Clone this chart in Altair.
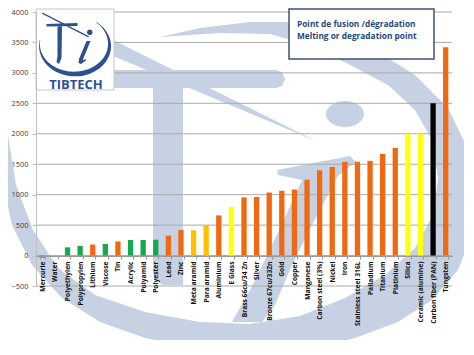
import altair as alt
import pandas as pd
import numpy as np

# ---------------- data ----------------
materials = ["Mercurie", "Water", "Polyethylen", "Polypropylen", "Lithium", "Viscose", "Tin",
             "Acrylic", "Polyamid", "Polyester", "Lead", "Zinc", "Meta aramid", "Para aramid",
             "Aluminium", "E Glass", "Brass 66cu/34 Zn", "Silver", "Bronze 67cu/33Zn", "Gold",
             "Copper", "Manganese", "Carbon steel (3%)", "Nickel", "Iron", "Stainless steel 316L",
             "Palladium", "Titanium", "Platinium", "Silica", "Ceramic (alumine)",
             "Carbon fiber (PAN)", "Tungsten"]
melting = [-39, 0, 135, 160, 180, 190, 232, 255, 255, 260, 327, 420, 415, 500, 660, 800, 955,
           962, 1035, 1064, 1085, 1246, 1400, 1455, 1538, 1540, 1555, 1668, 1768, 2000, 2000,
           2500, 3422]
ORANGE, GREEN, AMBER, YELLOW, BLACK = "#F0680F", "#16A84E", "#FFC000", "#FFFF10", "#000000"
bar_colors = [ORANGE, ORANGE, GREEN, GREEN, ORANGE, GREEN, ORANGE, GREEN, GREEN, GREEN, ORANGE,
              ORANGE, AMBER, AMBER, ORANGE, YELLOW, ORANGE, ORANGE, ORANGE, ORANGE, ORANGE,
              ORANGE, ORANGE, ORANGE, ORANGE, ORANGE, ORANGE, ORANGE, ORANGE, YELLOW, YELLOW,
              BLACK, ORANGE]
y_ticks = list(range(-500, 4001, 500))
title_lines = ["Point de fusion /dégradation", "Melting or degradation point"]
logo_text = "TIBTECH"

df = pd.DataFrame({"material": materials, "value": melting, "color": bar_colors})
ticks_df = pd.DataFrame({"tick": y_ticks})
one = pd.DataFrame({"a": [0]})

W, H = 416, 274
PAD_L, PAD_T = 28, 4
OX, OY = 8 + PAD_L, 8 + PAD_T   # plot origin in page pixels

# ---------------- decoration (watermark + logo) ----------------
def to_path(polys, cx, cy, R):
    parts = []
    for pts in polys:
        parts.append("M" + " L".join(f"{(x - cx) / R:.4f},{(y - cy) / R:.4f}" for x, y in pts) + " Z")
    return " ".join(parts)

def ellipse(cx, cy, rx, ry, n=36):
    t = np.linspace(0, 2 * np.pi, n, endpoint=False)
    return list(zip(cx + rx * np.cos(t), cy + ry * np.sin(t)))

def arc_band(cx, cy, rx, ry, t0, t1, wmax, n=60):
    ts = np.radians(np.linspace(t0, t1, n))
    s = np.linspace(0, 1, n)
    w = 0.4 + wmax * np.sin(np.pi * s) ** 1.2
    outer = [(cx + (rx + wi / 2) * np.cos(t), cy + (ry + wi / 2) * np.sin(t)) for t, wi in zip(ts, w)]
    inner = [(cx + (rx - wi / 2) * np.cos(t), cy + (ry - wi / 2) * np.sin(t)) for t, wi in zip(ts, w)]
    return outer + inner[::-1]

crescent = [(160, 37), (200, 28), (250, 22), (290, 22), (330, 32), (375, 50), (415, 75), (448, 108),
            (466, 145), (474, 190), (472, 235), (458, 270), (432, 300), (398, 322), (355, 338),
            (305, 350), (250, 354), (195, 348), (145, 338), (100, 322), (62, 298), (32, 265),
            (12, 225), (2, 180), (0, 130),
            (8, 135), (16, 185), (33, 230), (58, 268), (95, 295), (145, 312), (200, 322), (250, 324),
            (300, 316), (345, 298), (385, 275), (415, 248), (433, 215), (438, 178), (432, 140),
            (415, 110), (388, 85), (350, 65), (310, 45), (270, 34), (220, 33)]
t_stem = [(153, 70), (183, 70), (183, 285), (163, 285), (155, 280), (153, 272)]
t_bar = [(113, 70), (276, 70), (282, 72), (285, 79), (282, 86), (276, 88), (113, 88)]
t_slash = [(113, 40), (316, 141), (113, 56)]
i_dot = ellipse(345, 114, 19, 13)
i_stem = [(277, 170), (350, 156), (356, 162), (338, 176), (312, 225), (292, 265), (275, 305),
          (262, 322), (232, 322), (250, 290), (264, 262), (282, 224), (302, 180), (278, 175)]
WM_C = (237, 180, 250)
wm_path = to_path([crescent, t_stem, t_bar, t_slash, i_dot, i_stem], *WM_C)

logo_polys = [
    [(42.5, 12.5), (89, 36.3), (88.4, 37.6), (42, 13.8)],
    [(46.5, 24), (77.5, 23), (77.5, 26), (46.5, 26.6)],
    [(57.5, 26), (62, 26), (61.5, 58), (59, 64), (56.5, 62), (57.5, 56)],
    arc_band(74.5, 45, 35, 29, 190, -52, 4.5),
    ellipse(89.8, 32.3, 2.8, 2.8, 16),
    [(86.5, 41), (90.5, 41), (83.5, 58), (82.8, 60.5), (85.5, 59), (86, 60.5), (81, 64), (78.5, 63), (79, 59)],
]
LG_C = (75, 50, 50)
logo_path = to_path(logo_polys, *LG_C)
LOGO_BLUE = "#2D5190"

watermark = alt.Chart(one).mark_point(
    shape=wm_path, filled=True, color="#BCC9DE", opacity=0.85, strokeWidth=0,
    size=(2 * WM_C[2]) ** 2
).encode(x=alt.value(WM_C[0] - OX), y=alt.value(WM_C[1] - OY))

# ---------------- chart ----------------
yscale = alt.Scale(domain=[-500, 4000], nice=False, zero=False)
yaxis = alt.Axis(values=y_ticks, format="d", grid=False, domain=True, domainColor="#BFBFBF",
                 ticks=True, tickSize=4, tickColor="#BFBFBF", labelFont="Open Sans",
                 labelFontSize=7.4, labelColor="#404040", labelPadding=4, title=None, zindex=1)

grid = alt.Chart(ticks_df).mark_rule(color="#ABABAB", strokeWidth=1).encode(
    y=alt.Y("tick:Q", scale=yscale, axis=yaxis),
    x=alt.value(0), x2=alt.value(W))

zero_offset = -round(500 / 4500 * H)
bars = alt.Chart(df).mark_bar().encode(
    x=alt.X("material:N", sort=None,
            scale=alt.Scale(paddingInner=0.58, paddingOuter=0.29),
            axis=alt.Axis(title=None, labelAngle=-90, labelFont="Open Sans", labelFontSize=6.7,
                          labelFontWeight="bold", labelColor="#111111", labelPadding=2,
                          labelOverlap=False, labelLimit=200, offset=zero_offset,
                          domainColor="#9A9A9A", tickColor="#9A9A9A", tickSize=3,
                          tickBand="extent", zindex=1)),
    y=alt.Y("value:Q", scale=yscale, axis=yaxis),
    color=alt.Color("color:N", scale=None))

logo_box = alt.Chart(one).mark_rect(fill="white", stroke="#C8C8C8", strokeWidth=1).encode(
    x=alt.value(36 - OX), x2=alt.value(114 - OX), y=alt.value(9 - OY), y2=alt.value(90 - OY))
logo = alt.Chart(one).mark_point(
    shape=logo_path, filled=True, color=LOGO_BLUE, opacity=1, strokeWidth=0,
    size=(2 * LG_C[2]) ** 2
).encode(x=alt.value(LG_C[0] - OX), y=alt.value(LG_C[1] - OY))
logo_label = alt.Chart(one).mark_text(
    text=logo_text, font="Open Sans", fontSize=13, fontWeight="bold", color=LOGO_BLUE,
    align="center", baseline="alphabetic"
).encode(x=alt.value(76 - OX), y=alt.value(88.5 - OY))

title_box = alt.Chart(one).mark_rect(fill="white", stroke="#3E5370", strokeWidth=1.5).encode(
    x=alt.value(289 - OX), x2=alt.value(434 - OX), y=alt.value(9 - OY), y2=alt.value(59 - OY))
title1 = alt.Chart(one).mark_text(
    text=title_lines[0], font="Open Sans", fontSize=8.3, fontWeight="bold", color="#1F497D",
    align="left", baseline="middle").encode(x=alt.value(297 - OX), y=alt.value(25 - OY))
title2 = alt.Chart(one).mark_text(
    text=title_lines[1], font="Open Sans", fontSize=8.3, fontWeight="bold", color="#1F497D",
    align="left", baseline="middle").encode(x=alt.value(297 - OX), y=alt.value(37 - OY))

chart = alt.layer(watermark, grid, bars, logo_box, logo, logo_label, title_box, title1, title2).properties(
    width=W, height=H,
    autosize=alt.AutoSizeParams(type="none"),
    padding={"left": PAD_L, "top": PAD_T, "right": 12, "bottom": 54},
    background="white",
).configure_view(stroke=None)

chart.save("out.html", embed_options={"renderer": "svg", "actions": False})
